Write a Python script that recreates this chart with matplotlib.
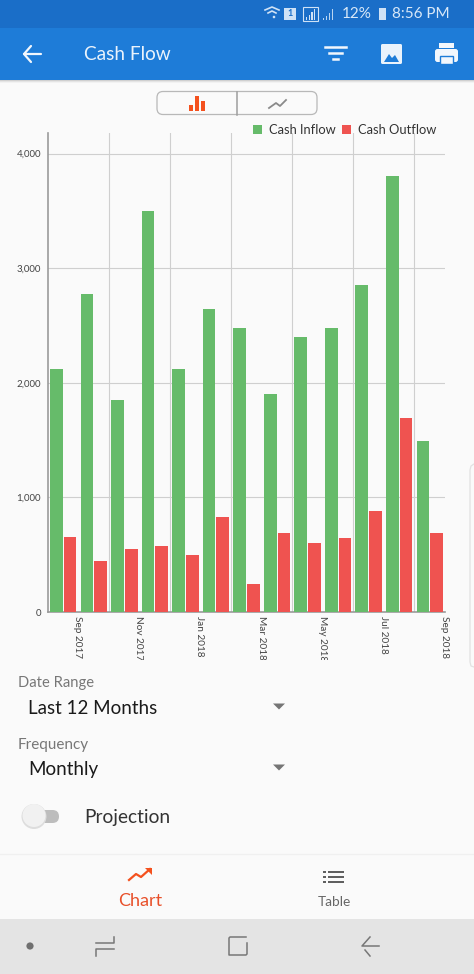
import matplotlib
matplotlib.use("Agg")
import matplotlib.pyplot as plt
from matplotlib.patches import Rectangle, FancyBboxPatch, Circle, Polygon
from matplotlib.transforms import Bbox

plt.rcParams['font.family'] = ['Lato', 'DejaVu Sans']

months = ['Sep 2017','Oct 2017','Nov 2017','Dec 2017','Jan 2018','Feb 2018','Mar 2018',
          'Apr 2018','May 2018','Jun 2018','Jul 2018','Aug 2018','Sep 2018']
inflow = [2120,2770,1850,3500,2120,2645,2480,1900,2400,2480,2855,3805,1490]
outflow = [655,445,550,575,495,830,245,690,600,645,880,1690,690]
yticks = [0,1000,2000,3000,4000]
GREEN, RED = '#66BB6A', '#EF5350'
W, H = 474, 974

fig = plt.figure(figsize=(W/100, H/100), dpi=100, facecolor='#FAFAFA')

# ---------- chart ----------
ax = fig.add_axes([48/W, 1-612/H, (445-48)/W, (612-133)/H], facecolor='none')
n = len(months)
bw = 0.415
xs = [i+0.5 for i in range(n)]
ax.bar([x-0.225 for x in xs], inflow, bw, color=GREEN, label='Cash Inflow', zorder=3)
ax.bar([x+0.225 for x in xs], outflow, bw, color=RED, label='Cash Outflow', zorder=3)
ax.set_xlim(0, n)
ax.set_ylim(0, 4000*(612-133)/(612-153.5))
ax.set_yticks(yticks)
ax.set_yticklabels([f'{v:,}' for v in yticks], fontsize=7, color='#444444')
ax.set_xticks(range(2, n, 2))
ax.set_xticklabels([])
ax.grid(True, color='#CFCFCF', lw=0.8, zorder=0)
ax.tick_params(axis='both', length=0, pad=5)
for s in ['top', 'right']:
    ax.spines[s].set_visible(False)
for s in ['left', 'bottom']:
    ax.spines[s].set_color('#9A9A9A')
    ax.spines[s].set_linewidth(1.2)
ax.set_axisbelow(True)
clip = Bbox([[0, H-660], [W, H]])
for i in range(0, n, 2):
    t = ax.annotate(months[i], xy=(i+1, 0), xycoords=('data', 'axes fraction'),
                    xytext=(-0.5, -3), textcoords='offset points', rotation=-90,
                    ha='center', va='top', fontsize=7.2, color='#444444', annotation_clip=False)
    t.set_clip_on(True)
    t.set_clip_box(clip)
leg = ax.legend(loc='center right', bbox_to_anchor=((436-48)/397, (612-130)/479), ncol=2, frameon=False,
                fontsize=9.3, handlelength=0.7, handleheight=0.7, handletextpad=0.5, columnspacing=0.5,
                labelcolor='#333333', borderaxespad=0, borderpad=0)

# ---------- app chrome in pixel coordinates ----------
ui = fig.add_axes([0, 0, 1, 1], facecolor='none')
ui.set_xlim(0, W); ui.set_ylim(H, 0); ui.axis('off')
BLUE1, BLUE2 = '#1A6EC8', '#1E7CD8'
ui.add_patch(Rectangle((0, 0), W, 28, color=BLUE1, lw=0))
ui.add_patch(Rectangle((0, 28), W, 52, color=BLUE2, lw=0))
for i, c in enumerate(['#D0D0D0', '#E4E4E4', '#F2F2F2']):
    ui.add_patch(Rectangle((0, 80+i), W, 1, color=c, lw=0))

ui.text(342, 14, '12%', color='#D8E8F8', fontsize=11, ha='left', va='center')
ui.text(392, 14, '8:56 PM', color='#D8E8F8', fontsize=11, ha='left', va='center')
ui.add_patch(Rectangle((284, 8), 12, 12, color='#CFE2F6', lw=0))
ui.text(290, 14, '1', color=BLUE1, fontsize=6.5, fontweight='bold', ha='center', va='center')
ui.add_patch(Rectangle((303, 7), 15, 14, fill=False, ec='#CFE2F6', lw=0.8))
for j, h in enumerate([3, 5, 8, 11]):
    ui.add_patch(Rectangle((306+j*2.6, 20-h), 1.5, h, color='#CFE2F6', lw=0))
for j, h in enumerate([2, 4, 7, 11]):
    ui.add_patch(Rectangle((323+j*3, 20-h), 1.3, h, color='#B8D4F0', lw=0))
ui.add_patch(Rectangle((379, 8), 7, 12, color='#CFE2F6', lw=0))
ui.plot([265, 272, 279], [10, 7, 10], color='#CFE2F6', lw=1.2)
ui.plot([268, 272, 276], [13, 11, 13], color='#CFE2F6', lw=1.2)
ui.add_patch(Circle((274, 17), 1.3, color='#CFE2F6', lw=0))

ui.plot([41, 24, 31], [54, 54, 46], color='#F2F7FD', lw=1.6, solid_capstyle='round')
ui.plot([24, 31], [54, 62], color='#F2F7FD', lw=1.6, solid_capstyle='round')
ui.text(84, 55, 'Cash Flow', color='#EAF3FC', fontsize=13.7, ha='left', va='center')
for xa, xb, y in [(325, 346, 47), (329, 342, 53), (333, 338, 59)]:
    ui.plot([xa, xb], [y, y], color='#F2F7FD', lw=1.8)
ui.add_patch(FancyBboxPatch((381, 44), 21, 20, boxstyle='round,pad=0,rounding_size=1.5', color='#EAF3FC', lw=0))
ui.add_patch(Polygon([[384, 62], [389, 54], [392, 58], [395, 55], [399, 62]], color=BLUE2, lw=0))
ui.add_patch(FancyBboxPatch((435, 49), 23, 13, boxstyle='round,pad=0,rounding_size=2.5', color='#F2F7FD', lw=0))
ui.add_patch(Rectangle((439, 43), 15, 5, color='#F2F7FD', lw=0))
ui.add_patch(Rectangle((440, 56), 13, 8, color='#F2F7FD', ec=BLUE2, lw=1))

# toggle
ui.add_patch(FancyBboxPatch((157, 91.5), 160, 23, boxstyle='round,pad=0,rounding_size=6',
                            fc='#FAFAFA', ec='#B8B8B8', lw=0.9))
ui.plot([237, 237], [91.5, 114.5], color='#9E9E9E', lw=1.1)
for xa, y in [(189, 105), (195, 96), (201, 101)]:
    ui.add_patch(Rectangle((xa, y), 4, 111-y, color='#F4511E', lw=0))
ui.plot([269, 276, 280, 286], [108, 103, 106, 100], color='#8A8A8A', lw=1.3)

# form
ui.text(18, 683, 'Date Range', color='#777777', fontsize=10.6, ha='left', va='center')
ui.text(28, 708, 'Last 12 Months', color='#1A1A1A', fontsize=13.5, ha='left', va='center')
ui.text(18, 745, 'Frequency', color='#777777', fontsize=11, ha='left', va='center')
ui.text(28, 769, 'Monthly', color='#1A1A1A', fontsize=13.5, ha='left', va='center')
for y in [707, 768]:
    ui.add_patch(Polygon([[273, y-3.5], [285, y-3.5], [279, y+2.5]], color='#757575', lw=0))
ui.add_patch(FancyBboxPatch((26, 810), 33, 13, boxstyle='round,pad=0,rounding_size=6.5', color='#BDBDBD', lw=0))
ui.add_patch(Circle((34, 816.5), 12.5, color='#DDDDDD', lw=0))
ui.add_patch(Circle((34, 815.5), 11.5, color='#F1F1F1', lw=0))
ui.text(84, 817, 'Projection', color='#333333', fontsize=13.8, ha='left', va='center')

# right edge tab
ui.plot([474, 471, 470, 470, 471, 474], [464, 466, 470, 662, 666, 667], color='#E2E2E2', lw=0.9)

# bottom nav
ui.plot([0, W], [854, 854], color='#F0F0F0', lw=1)
ui.plot([129, 136, 141, 150], [880, 874, 877, 869], color='#F4511E', lw=1.6)
ui.add_patch(Polygon([[145, 868], [152, 868], [152, 875]], color='#F4511E', lw=0))
ui.text(140, 901, 'Chart', color='#E8502A', fontsize=13, ha='center', va='center')
for y in [872, 877, 882]:
    ui.add_patch(Rectangle((323, y-1), 3, 2, color='#5F5F5F', lw=0))
    ui.add_patch(Rectangle((328, y-1), 16, 2, color='#5F5F5F', lw=0))
ui.text(334, 902, 'Table', color='#666666', fontsize=9.8, ha='center', va='center')

# system bar
ui.add_patch(Rectangle((0, 919), W, 55, color='#E4E4E4', lw=0))
ui.add_patch(Circle((30, 946), 3.6, color='#707070', lw=0))
ui.plot([114, 114, 96], [937, 943, 943], color='#777777', lw=1.1)
ui.plot([96, 96, 114], [956, 949, 949], color='#777777', lw=1.1)
ui.plot([246, 230, 229, 229, 246, 247, 247], [937, 937, 938, 955, 955, 954, 943], color='#777777', lw=1.1)
ui.plot([379, 362, 370], [946, 946, 937], color='#777777', lw=1.1)
ui.plot([365, 370], [950, 956], color='#777777', lw=1.1)

fig.savefig('out.png', dpi=100, facecolor=fig.get_facecolor())
